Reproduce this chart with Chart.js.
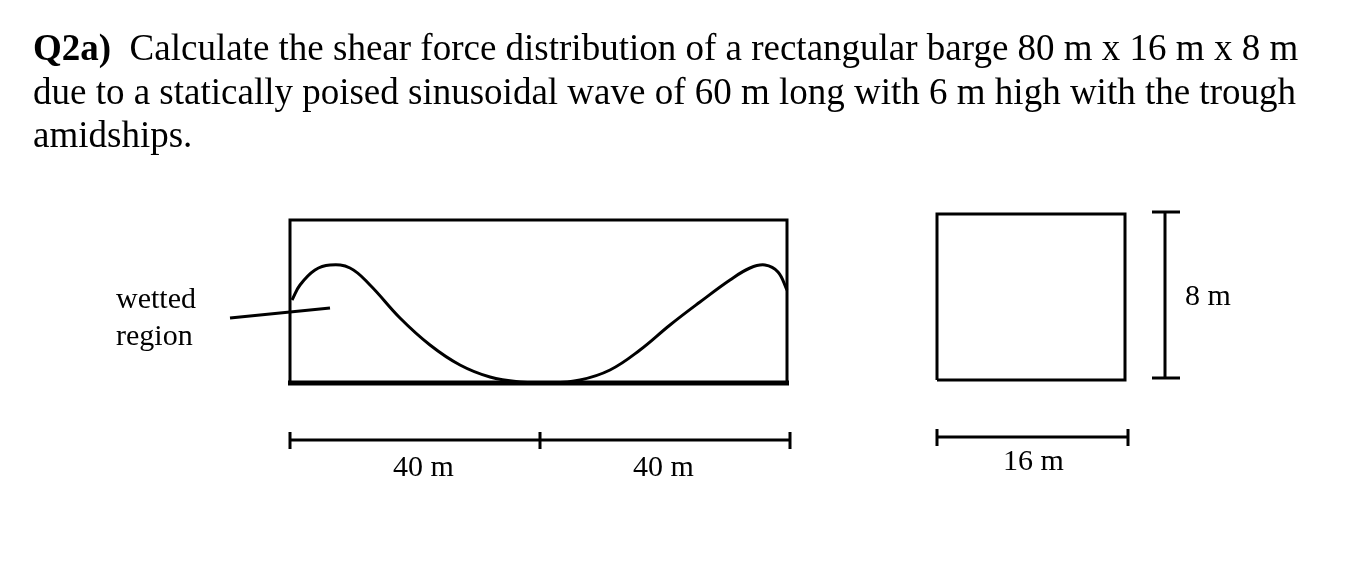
<!DOCTYPE html>
<html><head><meta charset="utf-8">
<script src="https://cdn.jsdelivr.net/npm/chart.js@4"></script>
<style>
body{margin:0;background:#fff;width:1347px;height:565px;overflow:hidden;position:relative;font-family:"Liberation Serif",serif;color:#000}
#wrap{position:absolute;left:0;top:0;width:1347px;height:565px}
.t{position:absolute;white-space:nowrap}
#q{left:33px;top:26px;font-size:37px;line-height:43.5px}
.lbl{font-size:30px}
</style></head><body>
<div id="wrap"><canvas id="c"></canvas></div>
<div class="t" id="q"><b>Q2a)</b>&nbsp; Calculate the shear force distribution of a rectangular barge 80 m x 16 m x 8 m<br>due to a statically poised sinusoidal wave of 60 m long with 6 m high with the trough<br>amidships.</div>
<div class="t lbl" style="left:116px;top:281px">wetted</div>
<div class="t lbl" style="left:116px;top:318px">region</div>
<div class="t lbl" style="left:393px;top:449px">40 m</div>
<div class="t lbl" style="left:633px;top:449px">40 m</div>
<div class="t lbl" style="left:1003px;top:443px">16 m</div>
<div class="t lbl" style="left:1185px;top:278px">8 m</div>
<script>
const bargeOutline=[[290,383],[290,220],[787,220],[787,383]];
const bargeBottom=[[288,383],[789,383]];
const wave=[[292,300],[300,285],[315,270],[330,265],[350,268],[370,285],[400,318],[430,345],[460,365],[490,377],[520,382],[550,383],[580,380],[610,370],[640,350],[670,325],[700,302],[730,280],[750,268],[765,265],[778,272],[787,290]];
const pointer=[[230,318],[290,312],[330,308]];
const section=[[937,380],[937,214],[1125,214],[1125,380],[937,380]];
const depthDim=[[1165,212],[1165,378]];
const depthCaps=[[[1152,212],[1180,212]],[[1152,378],[1180,378]]];
const lengthDim=[[290,440],[790,440]];
const lengthTicks=[[[290,432],[290,449]],[[540,432],[540,449]],[[790,432],[790,449]]];
const breadthDim=[[937,437],[1128,437]];
const breadthTicks=[[[937,429],[937,446]],[[1128,429],[1128,446]]];
const P=a=>a.map(([x,y])=>({x,y}));
const ds=(d,w)=>({data:P(d),showLine:true,borderColor:'#000',borderWidth:w,pointRadius:0,fill:false,tension:0});
const sets=[ds(bargeOutline,3),ds(bargeBottom,5),Object.assign(ds(wave,3),{tension:0.4}),ds(pointer,3),ds(section,3),ds(depthDim,3),ds(lengthDim,3),ds(breadthDim,3)];
depthCaps.concat(lengthTicks,breadthTicks).forEach(s=>sets.push(ds(s,3)));
new Chart(document.getElementById('c'),{type:'scatter',data:{datasets:sets},
options:{responsive:true,maintainAspectRatio:false,animation:false,layout:{padding:0},
plugins:{legend:{display:false},tooltip:{enabled:false}},
scales:{x:{type:'linear',min:0,max:1347,display:false},y:{type:'linear',min:0,max:565,reverse:true,display:false}}}});
</script></body></html>
